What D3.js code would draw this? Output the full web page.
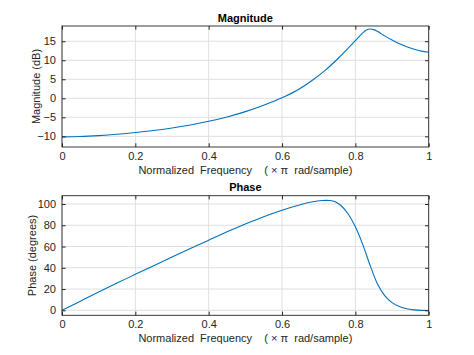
<!DOCTYPE html>
<html>
<head>
<meta charset="utf-8">
<script src="https://cdn.jsdelivr.net/npm/d3@7"></script>
<style>
  html, body { margin: 0; padding: 0; background: #fff; }
  svg { display: block; font-family: "Liberation Sans", Arial, Helvetica, sans-serif; }
  .tick text { fill: #262626; font-size: 11px; }
  .tick line { stroke: #262626; }
  .domain { display: none; }
</style>
</head>
<body>
<div id="chart"></div>
<script>
// ---- Data ----
const magFreq = [0, 0.05, 0.1, 0.15, 0.2, 0.25, 0.3, 0.35, 0.4, 0.45, 0.5, 0.55, 0.6, 0.64, 0.68, 0.72, 0.75, 0.78, 0.8, 0.82, 0.83, 0.84, 0.85, 0.86, 0.87, 0.88, 0.9, 0.92, 0.94, 0.96, 0.98, 1.0];
const magDb   = [-10.15, -10.05, -9.8, -9.45, -9.0, -8.45, -7.8, -7.0, -6.05, -4.9, -3.5, -1.8, 0.15, 2.05, 4.55, 7.55, 10.2, 13.1, 15.15, 17.2, 17.95, 18.2, 18.05, 17.6, 17.0, 16.4, 15.3, 14.35, 13.55, 12.9, 12.4, 12.1];

const phFreq = [0, 0.05, 0.1, 0.15, 0.2, 0.25, 0.3, 0.35, 0.4, 0.45, 0.5, 0.55, 0.6, 0.65, 0.68, 0.71, 0.73, 0.745, 0.76, 0.78, 0.8, 0.82, 0.84, 0.86, 0.88, 0.9, 0.92, 0.94, 0.96, 0.98, 1.0];
const phDeg  = [0, 8.6, 17.2, 25.6, 33.8, 42.0, 50.1, 58.1, 66.0, 73.8, 81.2, 88.1, 94.2, 99.3, 101.8, 103.3, 103.3, 102.2, 98.8, 90.8, 78.5, 62.0, 42.5, 25.0, 13.8, 7.2, 3.5, 1.4, 0.4, -0.1, -0.2];

const xTicks   = [0, 0.2, 0.4, 0.6, 0.8, 1];
const magTicks = [-10, -5, 0, 5, 10, 15];
const phTicks  = [0, 20, 40, 60, 80, 100];

const titles  = ["Magnitude", "Phase"];
const yLabels = ["Magnitude (dB)", "Phase (degrees)"];
const xLabel  = "Normalized  Frequency    ( \u00D7 \u03C0  rad/sample)";

// ---- Layout ----
const W = 474, H = 355;
const left = 62, right = 428.7;
const panels = [
  { top: 26, bottom: 147, domain: [-12.8, 19.0], ticks: magTicks, xs: magFreq, ys: magDb, title: titles[0], ylab: yLabels[0], ylabX: 36 },
  { top: 195.7, bottom: 315.3, domain: [-4.7, 107.8], ticks: phTicks, xs: phFreq, ys: phDeg, title: titles[1], ylab: yLabels[1], ylabX: 32 }
];

const svg = d3.select("#chart").append("svg").attr("width", W).attr("height", H);
svg.append("rect").attr("width", W).attr("height", H).attr("fill", "#fff");

const x = d3.scaleLinear().domain([0, 1]).range([left, right]);
const gridColor = "#dfdfdf";
const ink = "#262626";
const tick = 3.7;

panels.forEach(p => {
  const y = d3.scaleLinear().domain(p.domain).range([p.bottom, p.top]);
  const g = svg.append("g");

  // grid
  g.selectAll(".vg").data(xTicks).join("line")
    .attr("x1", d => x(d)).attr("x2", d => x(d))
    .attr("y1", p.top).attr("y2", p.bottom)
    .attr("stroke", gridColor).attr("stroke-width", 1);
  g.selectAll(".hg").data(p.ticks).join("line")
    .attr("x1", left).attr("x2", right)
    .attr("y1", d => y(d)).attr("y2", d => y(d))
    .attr("stroke", gridColor).attr("stroke-width", 1);

  // curve
  const line = d3.line().x(d => x(d[0])).y(d => y(d[1])).curve(d3.curveCatmullRom.alpha(0.5));
  g.append("path")
    .datum(p.xs.map((v, i) => [v, p.ys[i]]))
    .attr("d", line)
    .attr("fill", "none")
    .attr("stroke", "#0072BD")
    .attr("stroke-width", 1.1);

  // axes (inward ticks)
  g.append("g").attr("transform", `translate(0,${p.bottom})`)
    .call(d3.axisBottom(x).tickValues(xTicks).tickFormat(d3.format("~g")).tickSizeInner(-tick).tickSizeOuter(0).tickPadding(5));
  g.append("g").attr("transform", `translate(0,${p.top})`)
    .call(d3.axisTop(x).tickValues(xTicks).tickFormat("").tickSizeInner(-tick).tickSizeOuter(0));
  g.append("g").attr("transform", `translate(${left},0)`)
    .call(d3.axisLeft(y).tickValues(p.ticks).tickFormat(d3.format("~g")).tickSizeInner(-tick).tickSizeOuter(0).tickPadding(6));
  g.append("g").attr("transform", `translate(${right},0)`)
    .call(d3.axisRight(y).tickValues(p.ticks).tickFormat("").tickSizeInner(-tick).tickSizeOuter(0));

  // box
  g.append("rect")
    .attr("x", left).attr("y", p.top)
    .attr("width", right - left).attr("height", p.bottom - p.top)
    .attr("fill", "none").attr("stroke", ink).attr("stroke-width", 0.9);

  // title
  g.append("text")
    .attr("x", (left + right) / 2).attr("y", p.top - 4.5)
    .attr("text-anchor", "middle")
    .attr("font-size", 11).attr("font-weight", "bold").attr("fill", "#000")
    .text(p.title);

  // x label
  g.append("text")
    .attr("x", (left + right) / 2).attr("y", p.bottom + 27)
    .attr("text-anchor", "middle")
    .attr("font-size", 11).attr("fill", ink)
    .style("white-space", "pre")
    .text(xLabel);

  // y label
  g.append("text")
    .attr("transform", `translate(${p.ylabX},${(p.top + p.bottom) / 2}) rotate(-90)`)
    .attr("text-anchor", "middle")
    .attr("dy", "0.35em")
    .attr("font-size", 11).attr("fill", ink)
    .text(p.ylab);
});
</script>
</body>
</html>
